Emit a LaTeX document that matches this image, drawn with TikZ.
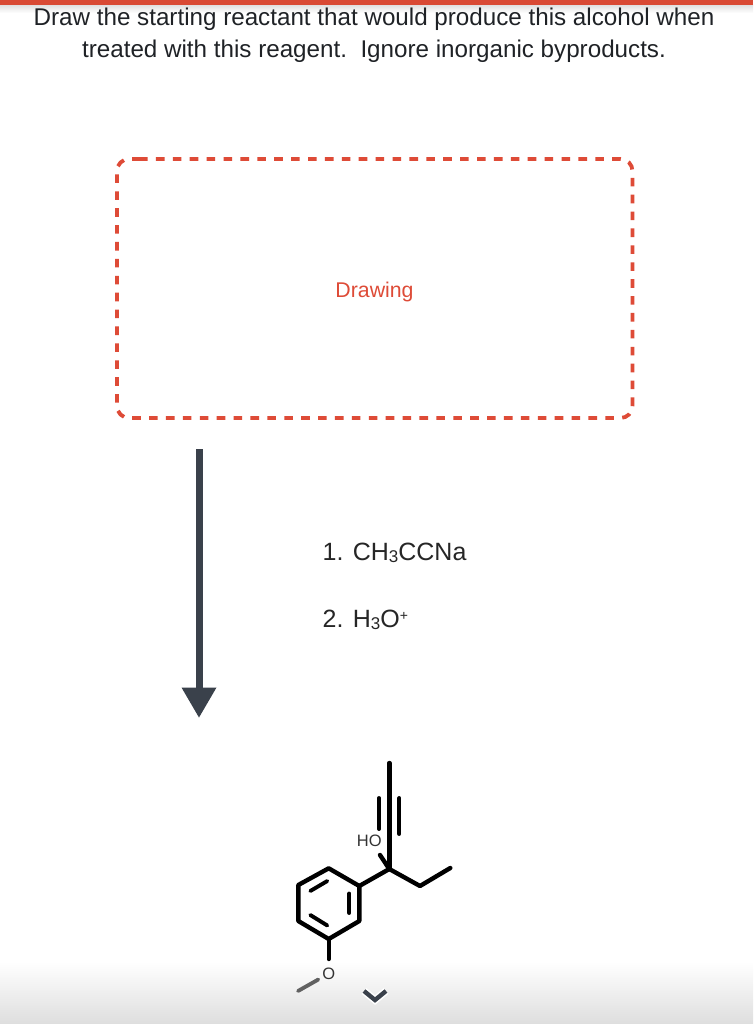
\documentclass[tikz,border=0pt]{standalone}
\usepackage{fontspec}
\setmainfont{Liberation Sans}
\usetikzlibrary{shadings}
\definecolor{redbar}{HTML}{D94A35}
\definecolor{dashred}{HTML}{DE4B37}
\definecolor{slate}{HTML}{3A414B}
\definecolor{ink}{HTML}{1F2226}
\newcommand{\lowidx}[1]{\raisebox{-2.6pt}{\fontsize{17}{17}\selectfont #1}}
\newcommand{\highidx}[1]{\raisebox{6.5pt}{\fontsize{14}{14}\selectfont #1}}
\tikzset{
  bond/.style={line width=4.4pt,black,line cap=round},
  hairbond/.style={line width=3.9pt,black,line cap=round},
  atomlabel/.style={font=\fontsize{16.5}{16}\selectfont,text=black!80,inner sep=0pt},
  headline/.style={font=\fontsize{24.2}{26}\selectfont,text=ink,inner sep=0pt,anchor=center},
  reagent/.style={font=\fontsize{25}{28}\selectfont,text=black!85,inner sep=0pt,anchor=base west},
}
\begin{document}
\begin{tikzpicture}[x=1pt,y=-1pt]
\useasboundingbox (0,0) rectangle (753,1024);
\fill[white] (0,0) rectangle (753,1024);
% top bar
\shade[top color=black!12,bottom color=white] (0,5) rectangle (753,13);
\fill[redbar] (0,0) rectangle (753,5);
% heading
\node[headline] (line1) at (374,19) {Draw the starting reactant that would produce this alcohol when};
\node[headline] (line2) at (374,51) {treated with this reagent.\ \ Ignore inorganic byproducts.};
% drawing box
\draw[dashred,line width=3.8pt,dash pattern=on 8.6pt off 8.3pt]
  (139,159) -- (620.5,159) arc[start angle=-90,end angle=0,radius=12] -- (632.5,406)
  arc[start angle=0,end angle=90,radius=12] -- (129,418)
  arc[start angle=90,end angle=180,radius=12] -- (117,171)
  arc[start angle=180,end angle=270,radius=12] -- cycle;
\node[font=\fontsize{21.3}{24}\selectfont,text=dashred,inner sep=0pt] (drawing) at (374.5,292) {Drawing};
% reaction arrow
\coordinate (arrowstart) at (199,449);
\coordinate (arrowend) at (199,690);
\draw[slate,line width=7pt] (arrowstart) -- (arrowend);
\fill[slate] (181.5,687.5) -- (216.5,687.5) -- (199,717.5) -- cycle;
% reagents
\node[reagent] (r1) at (322.5,560) {1. CH\lowidx{3}CCNa};
\node[reagent] (r2) at (322.5,627) {2. H\lowidx{3}O\highidx{+}};
% molecule
\coordinate (me) at (389.3,763);
\coordinate (c) at (389.3,869);
\coordinate (et1) at (420,886);
\coordinate (et2) at (450.3,868);
\coordinate (a1) at (359.3,886);
\coordinate (a2) at (328.7,868.3);
\coordinate (a3) at (298.3,885);
\coordinate (a4) at (298.3,921);
\coordinate (a5) at (328.7,939);
\coordinate (a6) at (359.3,921);
\coordinate (oh) at (380,855);
\coordinate (ob) at (328.7,959);
\coordinate (t1a) at (379,798);
\coordinate (t1b) at (379,829);
\coordinate (t2a) at (399.3,798);
\coordinate (t2b) at (399.3,834);
\coordinate (d1a) at (349.3,893.5);
\coordinate (d1b) at (349.3,913);
\coordinate (d2a) at (310.3,891);
\coordinate (d2b) at (327.3,881);
\coordinate (d3a) at (310.3,915);
\coordinate (d3b) at (327.3,925.5);
\draw[bond] (me) -- (c);
\draw[bond] (oh) -- (c);
\draw[bond,line join=round] (c) -- (et1) -- (et2);
\draw[bond] (c) -- (a1);
\draw[bond,line join=round] (a1) -- (a2) -- (a3) -- (a4) -- (a5) -- (a6) -- cycle;
\draw[bond] (a5) -- (ob);
\draw[hairbond] (t1a) -- (t1b);
\draw[hairbond] (t2a) -- (t2b);
\draw[hairbond] (d1a) -- (d1b);
\draw[hairbond] (d2a) -- (d2b);
\draw[hairbond] (d3a) -- (d3b);
\node[atomlabel] (hotext) at (369.3,841) {HO};
% bottom fade
\shade[top color=white,bottom color=black!13] (0,962) rectangle (753,1024);
\node[atomlabel] (otext) at (328.7,974) {O};
\coordinate (m1) at (318.3,979.5);
\coordinate (m2) at (298,991);
\draw[line width=3.8pt,line cap=round,black!62] (m1) -- (m2);
% scroll chevron
\coordinate (ch1) at (364,991);
\coordinate (ch2) at (375,1000);
\coordinate (ch3) at (386,991);
\draw[white,line width=7.5pt,line join=miter] (ch1) -- (ch2) -- (ch3);
\draw[slate,line width=4.4pt,line join=miter] (ch1) -- (ch2) -- (ch3);
\end{tikzpicture}
\end{document}
